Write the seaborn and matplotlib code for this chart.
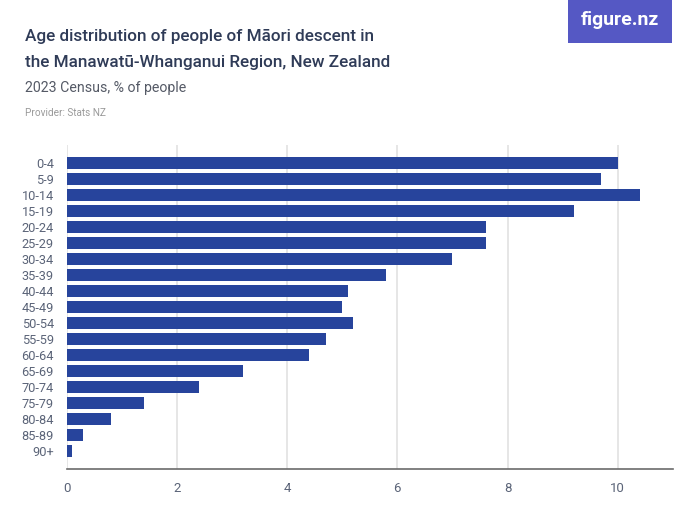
#!/usr/bin/env python3
"""Age distribution of people of Maori descent, Manawatu-Whanganui (figure.nz style)."""

import matplotlib
matplotlib.use("Agg")
import matplotlib.pyplot as plt
import matplotlib.patches as mpatches
import pandas as pd
import seaborn as sns

# ── data ────────────────────────────────────────────────────────────
age_groups = [
    "0-4", "5-9", "10-14", "15-19", "20-24", "25-29", "30-34", "35-39",
    "40-44", "45-49", "50-54", "55-59", "60-64", "65-69", "70-74",
    "75-79", "80-84", "85-89", "90+",
]
percent = [
    10.0, 9.7, 10.4, 9.2, 7.6, 7.6, 7.0, 5.8,
    5.1, 5.0, 5.2, 4.7, 4.4, 3.2, 2.4,
    1.4, 0.8, 0.3, 0.1,
]
x_ticks = [0, 2, 4, 6, 8, 10]

# ── style ───────────────────────────────────────────────────────────
BAR = "#27449c"
TITLE = "#2f3b57"
TICK = "#5b6478"
GRID = "#e2e2e2"
LOGO = "#5558c4"
FONT = ["Roboto", "DejaVu Sans"]

sns.set_style("white")
plt.rcParams["font.family"] = FONT

df = pd.DataFrame({"age": age_groups, "pct": percent})

fig = plt.figure(figsize=(7, 5.25), dpi=100)
ax = fig.add_axes([66.5 / 700, 1 - 469 / 525, (673 - 66.5) / 700, (469 - 145) / 525])

sns.barplot(data=df, x="pct", y="age", color=BAR, width=0.8,
            saturation=1, edgecolor="none", ax=ax)

ax.set_xlim(0, 11)
ax.set_ylim(len(age_groups) - 1 + 1.125, -1.125)
ax.set_xticks(x_ticks)
ax.set_xticklabels([str(t) for t in x_ticks])
ax.set_xlabel("")
ax.set_ylabel("")
ax.xaxis.grid(True, color=GRID, linewidth=1.2)
ax.set_axisbelow(True)

for side in ("top", "right", "left"):
    ax.spines[side].set_visible(False)
ax.spines["bottom"].set_color("#6b6b6b")
ax.spines["bottom"].set_linewidth(1.2)
ax.tick_params(axis="x", colors=TICK, labelsize=9.5, length=5, width=1,
               color="#6b6b6b", pad=4)
ax.tick_params(axis="y", colors=TICK, labelsize=9.2, length=0, pad=9)

# ── header text ─────────────────────────────────────────────────────
fig.text(25 / 700, 1 - 37 / 525, "Age distribution of people of Māori descent in",
         fontsize=12.3, color=TITLE, va="center", ha="left", fontweight="medium")
fig.text(25 / 700, 1 - 62 / 525, "the Manawatū-Whanganui Region, New Zealand",
         fontsize=12.3, color=TITLE, va="center", ha="left", fontweight="medium")
fig.text(25 / 700, 1 - 88 / 525, "2023 Census, % of people",
         fontsize=10.2, color="#555a66", va="center", ha="left")
fig.text(25 / 700, 1 - 113 / 525, "Provider: Stats NZ",
         fontsize=7.2, color="#9a9a9a", va="center", ha="left")

# figure.nz logo box
fig.patches.append(mpatches.Rectangle((568 / 700, 1 - 43 / 525), 104 / 700, 43 / 525,
                                      transform=fig.transFigure, facecolor=LOGO,
                                      edgecolor="none"))
fig.text(620 / 700, 1 - 20 / 525, "figure.nz", fontsize=14, color="white",
         ha="center", va="center", fontweight="bold")

fig.savefig("out.png", dpi=100)
plt.close(fig)
